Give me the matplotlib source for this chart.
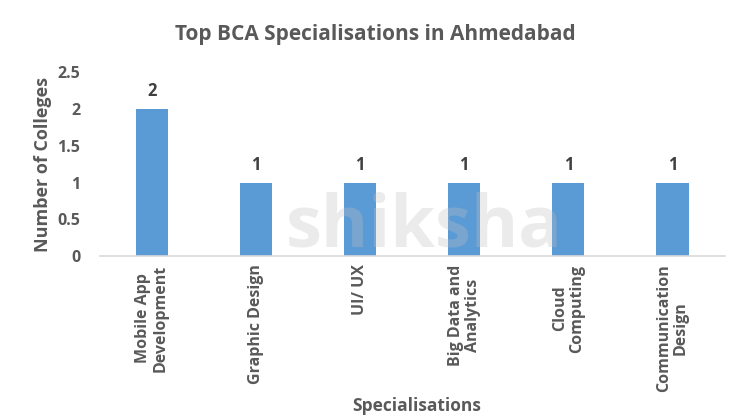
import matplotlib
matplotlib.use("Agg")

import matplotlib.pyplot as plt

categories = ["Mobile App\nDevelopment", "Graphic Design", "UI/ UX",
              "Big Data and\nAnalytics", "Cloud\nComputing", "Communication\nDesign"]
colleges = [2, 1, 1, 1, 1, 1]
yticks = [0, 0.5, 1, 1.5, 2, 2.5]
ytick_labels = ["0", "0.5", "1", "1.5", "2", "2.5"]

text_color = "#595959"
bar_color = "#5B9BD5"
plt.rcParams["font.family"] = ["Open Sans", "DejaVu Sans"]

fig = plt.figure(figsize=(7.5, 4.18), dpi=100)
ax = fig.add_axes([0.133, 0.387, 0.833, 0.44])

x = range(len(categories))
bars = ax.bar(x, colleges, width=0.31, color=bar_color, zorder=2)

for xi, v in zip(x, colleges):
    ax.text(xi, v + 0.12, f"{v}", ha="center", va="bottom", fontsize=12,
            fontweight="bold", color="#404040", zorder=4)

ax.set_xlim(-0.5, len(categories) - 0.5)
ax.set_ylim(0, 2.5)
ax.set_yticks(yticks)
ax.set_yticklabels(ytick_labels, fontsize=11.5, fontweight="bold", color=text_color)
ax.set_xticks(list(x))
ax.set_xticklabels(categories, rotation=90, fontsize=11.5, fontweight="bold",
                   color=text_color, ha="center", va="top", multialignment="center",
                   linespacing=1.1)
ax.tick_params(axis="both", length=0, pad=6)
ax.tick_params(axis="y", pad=14)

for side in ["top", "right", "left"]:
    ax.spines[side].set_visible(False)
ax.spines["bottom"].set_color("#D9D9D9")
ax.spines["bottom"].set_linewidth(1.2)

ax.set_ylabel("Number of Colleges", fontsize=13, fontweight="bold", color=text_color,
              labelpad=4)
fig.text(0.555, 0.017, "Specialisations", ha="center", fontsize=12.5,
         fontweight="bold", color=text_color)
fig.text(0.5, 0.905, "Top BCA Specialisations in Ahmedabad", ha="center",
         fontsize=15, fontweight="bold", color=text_color)

# faint watermark
fig.text(0.565, 0.455, "shiksha", ha="center", va="center", fontsize=52,
         fontweight="bold", color="#BFBFBF", alpha=0.3, zorder=5)

fig.savefig("out.png", dpi=100)
